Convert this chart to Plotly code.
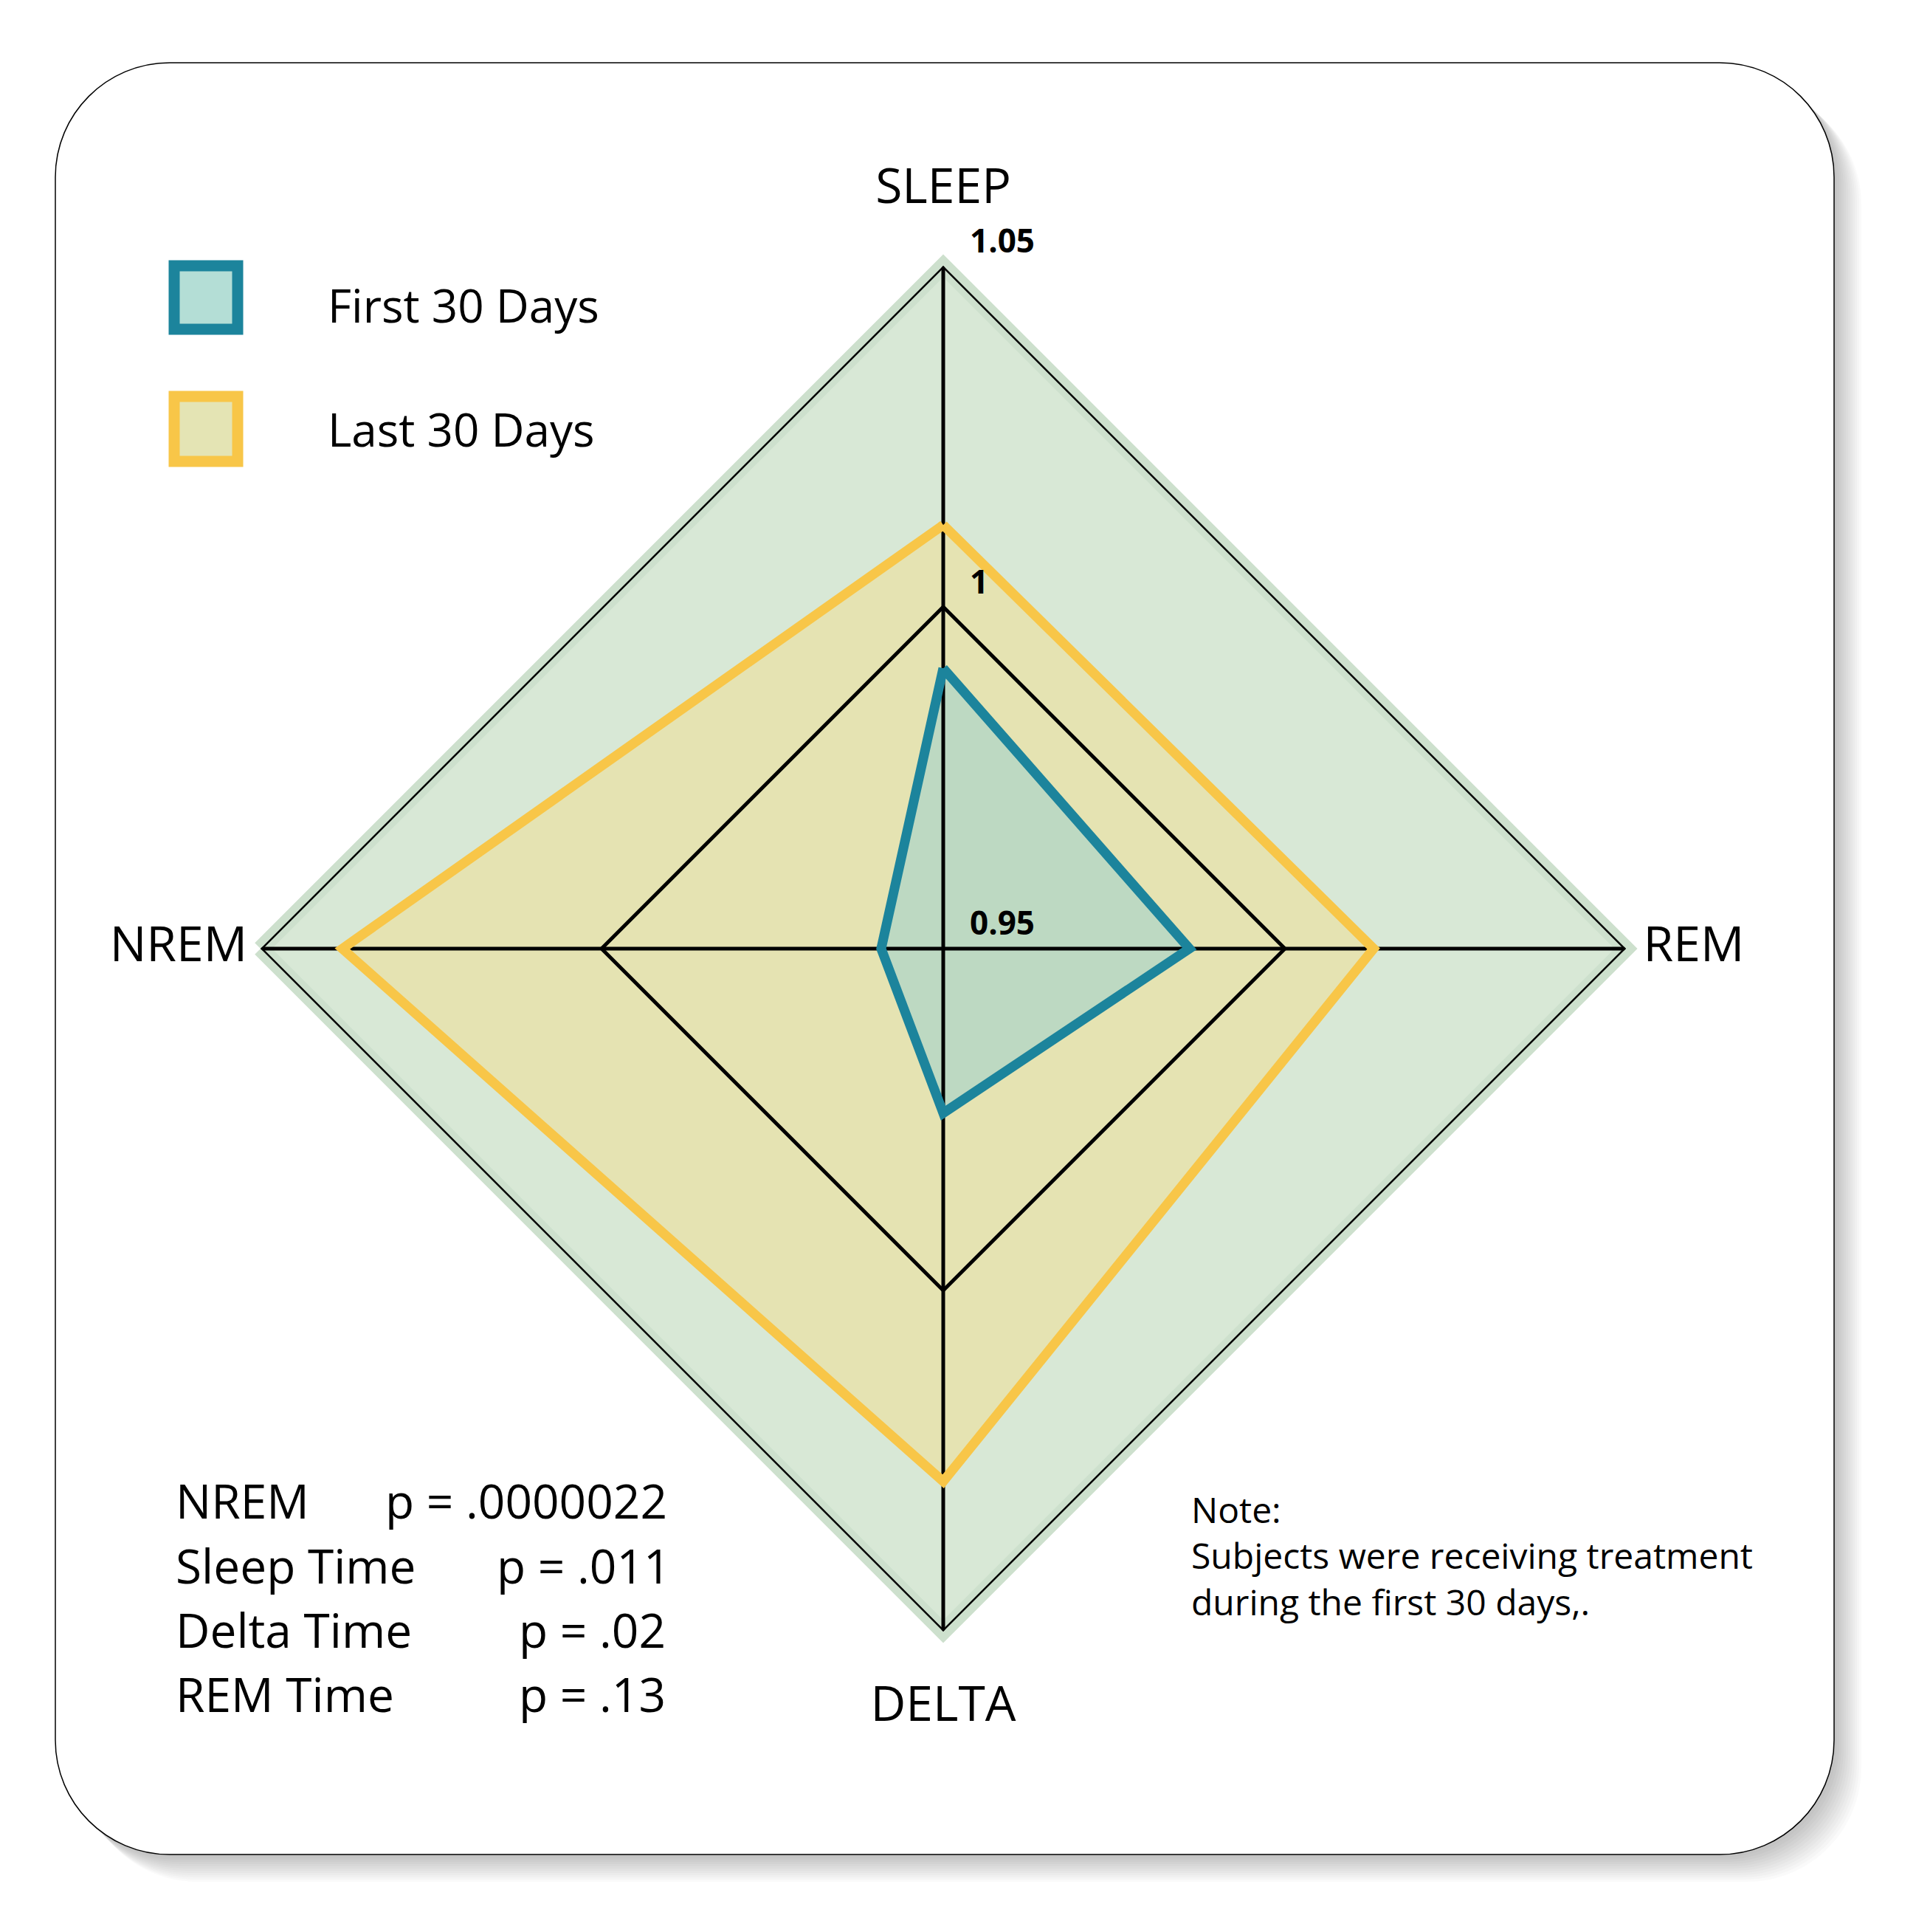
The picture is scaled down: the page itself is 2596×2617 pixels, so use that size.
import plotly.graph_objects as go

# radar data
axes = ["SLEEP", "REM", "DELTA", "NREM"]
first_30 = [0.991, 0.986, 0.974, 0.959]
last_30 = [1.012, 1.013, 1.028, 1.038]
grid_levels = [1.0, 1.05]
tick_vals = [0.95, 1.0, 1.05]
tick_text = ["0.95", "1", "1.05"]
r_range = [0.95, 1.05]

legend_names = ["First 30 Days", "Last 30 Days"]
stat_names = ["NREM", "Sleep Time", "Delta Time", "REM Time"]
stat_p = ["p = .0000022", "p = .011", "p = .02", "p = .13"]
note_lines = ["Note:", "Subjects were receiving treatment", "during the first 30 days,."]

W, H = 2596, 2617
FONT = "Open Sans"
TEAL = "#1c849c"
YELLOW = "#f8c648"


def px(x):
    return x / W


def py(y):
    return 1 - y / H


def rounded_rect(x0, y0, x1, y1, r):
    k = 0.5523 * r
    pts = [
        f"M{px(x0 + r)},{py(y0)}",
        f"L{px(x1 - r)},{py(y0)}",
        f"C{px(x1 - r + k)},{py(y0)} {px(x1)},{py(y0 + r - k)} {px(x1)},{py(y0 + r)}",
        f"L{px(x1)},{py(y1 - r)}",
        f"C{px(x1)},{py(y1 - r + k)} {px(x1 - r + k)},{py(y1)} {px(x1 - r)},{py(y1)}",
        f"L{px(x0 + r)},{py(y1)}",
        f"C{px(x0 + r - k)},{py(y1)} {px(x0)},{py(y1 - r + k)} {px(x0)},{py(y1 - r)}",
        f"L{px(x0)},{py(y0 + r)}",
        f"C{px(x0)},{py(y0 + r - k)} {px(x0 + r - k)},{py(y0)} {px(x0 + r)},{py(y0)}",
        "Z",
    ]
    return " ".join(pts)


fig = go.Figure()

# filled areas first
fig.add_trace(go.Scatterpolar(
    r=last_30 + last_30[:1], theta=axes + axes[:1], mode="none",
    fill="toself", fillcolor="#e5e3b2", showlegend=False, hoverinfo="skip",
))
fig.add_trace(go.Scatterpolar(
    r=first_30 + first_30[:1], theta=axes + axes[:1], mode="none",
    fill="toself", fillcolor="#bdd9c2", showlegend=False, hoverinfo="skip",
))

# grid drawn above the fills
for lvl in grid_levels:
    fig.add_trace(go.Scatterpolar(
        r=[lvl] * 5, theta=axes + axes[:1], mode="lines",
        line=dict(color="black", width=5), showlegend=False, hoverinfo="skip",
        cliponaxis=False,
    ))
fig.add_trace(go.Scatterpolar(
    r=[r_range[1], r_range[0], r_range[1], None, r_range[1], r_range[0], r_range[1]],
    theta=[axes[0], axes[0], axes[2], None, axes[1], axes[1], axes[3]],
    mode="lines", line=dict(color="black", width=5), showlegend=False,
    hoverinfo="skip", cliponaxis=False,
))

# series outlines
fig.add_trace(go.Scatterpolar(
    r=last_30 + last_30[:1], theta=axes + axes[:1], mode="lines",
    line=dict(color=YELLOW, width=13), name=legend_names[1], showlegend=False,
))
fig.add_trace(go.Scatterpolar(
    r=first_30 + first_30[:1], theta=axes + axes[:1], mode="lines",
    line=dict(color=TEAL, width=13), name=legend_names[0], showlegend=False,
))

# radial tick labels (blank second line lifts them above the grid point)
fig.add_trace(go.Scatterpolar(
    r=tick_vals, theta=[axes[0]] * len(tick_vals), mode="markers+text",
    text=[f"<b>{t}</b><br> " for t in tick_text], textposition="middle right",
    textfont=dict(family=FONT, size=44, color="black"),
    marker=dict(size=56, opacity=0), showlegend=False, hoverinfo="skip",
    cliponaxis=False,
))

# category labels around the outer edge
fig.add_trace(go.Scatterpolar(
    r=[r_range[1]] * len(axes), theta=axes, mode="markers+text",
    text=axes, textposition=["top center", "middle right", "bottom center", "middle left"],
    textfont=dict(family=FONT, size=66, color="black"),
    marker=dict(size=[108, 36, 112, 27], opacity=0), showlegend=False,
    hoverinfo="skip", cliponaxis=False,
))

cx, cy, R = 1278, 1285, 925
fig.update_layout(
    width=W, height=H,
    margin=dict(l=0, r=0, t=0, b=0),
    paper_bgcolor="white",
    font=dict(family=FONT, color="black"),
    polar=dict(
        domain=dict(x=[px(cx - R), px(cx + R)], y=[py(cy + R), py(cy - R)]),
        bgcolor="#d8e8d6",
        gridshape="linear",
        # tiny margin below 0.95 so the centre label is not dropped
        radialaxis=dict(range=[r_range[0] - 0.0001, r_range[1]], showgrid=False,
                        showticklabels=False, showline=False, ticks=""),
        angularaxis=dict(direction="clockwise", rotation=90, showgrid=False,
                         showline=True, linecolor="#cde0cd", linewidth=22,
                         layer="below traces", ticks="", showticklabels=False),
    ),
)

# card with soft shadow
shapes = []
for i in range(12):
    off = 4 + i * 3
    shapes.append(dict(type="path", xref="paper", yref="paper", layer="below",
                       path=rounded_rect(75 + off, 85 + off, 2485 + off, 2512 + off, 155),
                       fillcolor="rgba(0,0,0,0.018)", line=dict(width=0)))
shapes.append(dict(type="path", xref="paper", yref="paper", layer="below",
                   path=rounded_rect(75, 85, 2485, 2512, 155),
                   fillcolor="white", line=dict(color="black", width=1.5)))

# legend squares
legend_fills = ["#b4ded6", "#e4e4b4"]
legend_lines = [TEAL, YELLOW]
legend_y = [(360, 446), (537, 625)]
for fc, lc, (y0, y1) in zip(legend_fills, legend_lines, legend_y):
    shapes.append(dict(type="rect", xref="paper", yref="paper",
                       x0=px(236), x1=px(322), y0=py(y1), y1=py(y0),
                       fillcolor=fc, line=dict(color=lc, width=15)))
fig.update_layout(shapes=shapes)

annotations = []
for name, y in zip(legend_names, [413, 581]):
    annotations.append(dict(text=name, x=px(442), y=py(y), xref="paper", yref="paper",
                            xanchor="left", yanchor="middle", showarrow=False,
                            font=dict(family=FONT, size=62, color="black")))

stat_y = [2033, 2120, 2207, 2294]
stat_px = [520, 671, 701, 701]
for name, p, y, xp in zip(stat_names, stat_p, stat_y, stat_px):
    annotations.append(dict(text=name, x=px(236), y=py(y), xref="paper", yref="paper",
                            xanchor="left", yanchor="middle", showarrow=False,
                            font=dict(family=FONT, size=64, color="black")))
    annotations.append(dict(text=p, x=px(xp), y=py(y), xref="paper", yref="paper",
                            xanchor="left", yanchor="middle", showarrow=False,
                            font=dict(family=FONT, size=64, color="black")))

annotations.append(dict(text="<br>".join(note_lines), x=px(1612), y=py(2010),
                        xref="paper", yref="paper", xanchor="left", yanchor="top",
                        align="left", showarrow=False,
                        font=dict(family=FONT, size=48, color="black")))
fig.update_layout(annotations=annotations)

fig.write_html("out.html", config={"displayModeBar": False},
               post_script="document.body.style.margin='0';")
